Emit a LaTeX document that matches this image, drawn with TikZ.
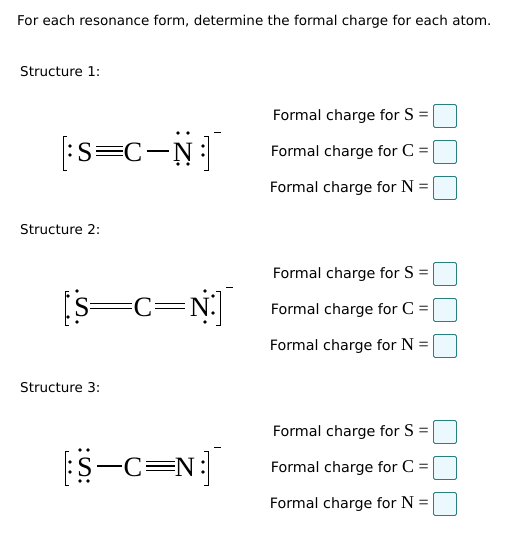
\documentclass[tikz,border=0pt]{standalone}
\usepackage{fontspec}
\setmainfont{DejaVu Sans}
\newfontfamily\chem{Liberation Serif}
\begin{document}
\begin{tikzpicture}[x=1pt,y=-1pt,
  lbl/.style={anchor=west,inner sep=0,font=\fontsize{13.5}{16}\selectfont},
  flbl/.style={anchor=east,inner sep=0,font=\fontsize{14.3}{16}\selectfont},
  atom/.style={inner sep=1pt,font=\chem\fontsize{28}{28}\selectfont},
  bx/.style={draw=teal!70!gray,fill=cyan!8,rounded corners=1.5pt,minimum width=23,minimum height=23,inner sep=0,line width=0.8pt},
  bond/.style={line width=1.6pt}]
\useasboundingbox (0,0) rectangle (513,550);
\node[lbl] (h) at (17,22) {For each resonance form, determine the formal charge for each atom.};
\foreach \t/\y in {1/72,2/230,3/388}{\node[lbl] (st\t) at (20,\y) {Structure \t:};}
\foreach \y/\i in {116/a,152/b,188/c,274/d,310/e,346/f,432/g,468/h,504/i}{
  \node[bx] (b\i) at (445,\y) {};}
\foreach \y/\i/\e in {116/a/S,152/b/C,188/c/N,274/d/S,310/e/C,346/f/N,432/g/S,468/h/C,504/i/N}{
  \node[flbl] (l\i) at (429,\y) {Formal charge for {\chem\fontsize{18}{18}\selectfont\e\ =}};}
\newcommand{\brk}[4]{% x1 x2 yc minus
  \draw[line width=0.9pt] (#1+4,#3-16) -- (#1,#3-16) -- (#1,#3+18) -- (#1+4,#3+18);
  \draw[line width=0.9pt] (#2-4,#3-16) -- (#2,#3-16) -- (#2,#3+18) -- (#2-4,#3+18);
  \draw[line width=0.8pt] (#2+6,#3-20) -- (#2+13,#3-20);}
\newcommand{\dt}[2]{\fill (#1,#2) circle (1.8);}
% Structure 1
\brk{63}{208}{152}{}
\node[atom] (s1) at (85,152) {S};
\node[atom] (c1) at (133,152) {C};
\node[atom] (n1) at (183,152) {N};
\foreach \d in {-4.5,0,4.5}{\draw[bond] (96,151+\d) -- (123,151+\d);}
\draw[bond] (147,151) -- (169,151);
\dt{70}{146}\dt{70}{155}\dt{178}{133}\dt{188}{133}\dt{178}{164}\dt{188}{164}\dt{203}{146}\dt{203}{155}
% Structure 2
\brk{65}{220}{307}{}
\node[atom] (s2) at (82,307) {S};
\node[atom] (c2) at (143,307) {C};
\node[atom] (n2) at (200,307) {N};
\foreach \d in {-2.5,2.5}{\draw[bond] (90,306+\d) -- (132,306+\d);\draw[bond] (155,306+\d) -- (185,306+\d);}
\dt{68}{296}\dt{77}{291}\dt{68}{317}\dt{77}{322}\dt{205}{291}\dt{213}{296}\dt{213}{313}\dt{205}{322}
% Structure 3
\brk{65}{208}{467}{}
\node[atom] (s3) at (85,467) {S};
\node[atom] (c3) at (133,467) {C};
\node[atom] (n3) at (185,467) {N};
\draw[bond] (97,466) -- (122,466);
\foreach \d in {-4.5,0,4.5}{\draw[bond] (146,466+\d) -- (175,466+\d);}
\dt{70}{462}\dt{70}{472}\dt{80}{450}\dt{88}{450}\dt{80}{481}\dt{88}{481}\dt{203}{462}\dt{203}{472}
\end{tikzpicture}
\end{document}
